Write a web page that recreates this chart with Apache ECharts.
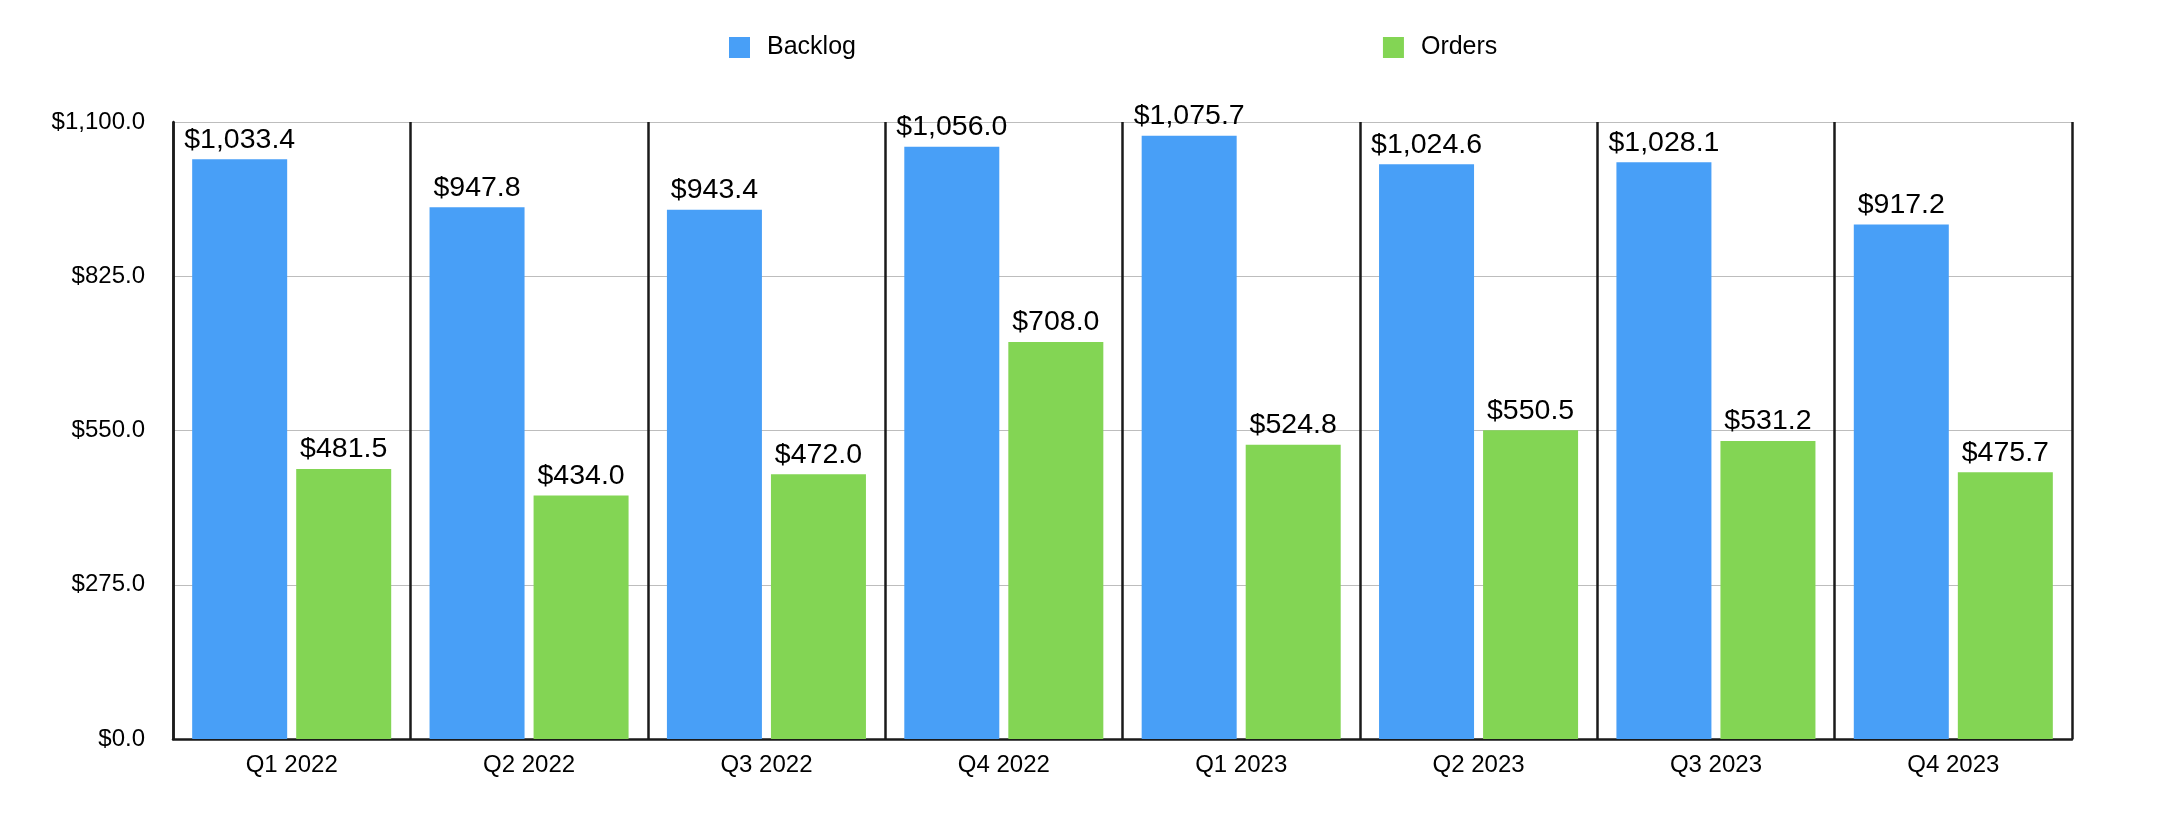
<!DOCTYPE html>
<html>
<head>
<meta charset="utf-8">
<script src="https://cdn.jsdelivr.net/npm/echarts@6/dist/echarts.min.js"></script>
<style>
html,body{margin:0;padding:0;background:#fff;}
#chart{width:2164px;height:830px;}
</style>
</head>
<body>
<div id="chart"></div>
<script>
const categories = ['Q1 2022','Q2 2022','Q3 2022','Q4 2022','Q1 2023','Q2 2023','Q3 2023','Q4 2023'];
const backlog = [1033.4, 947.8, 943.4, 1056.0, 1075.7, 1024.6, 1028.1, 917.2];
const orders = [481.5, 434.0, 472.0, 708.0, 524.8, 550.5, 531.2, 475.7];
const yMin = 0, yMax = 1100, yInterval = 275;

const FONT = "'Liberation Sans', Helvetica, Arial, sans-serif";
const nf = new Intl.NumberFormat('en-US', {minimumFractionDigits: 1, maximumFractionDigits: 1});
const money = v => '$' + nf.format(v);

const chart = echarts.init(document.getElementById('chart'), null, {renderer: 'canvas'});
const labelStyle = {
  show: true, position: 'top', distance: 5,
  fontFamily: FONT, fontSize: 28.5, color: '#000',
  formatter: p => money(p.value)
};
chart.setOption({
  animation: false,
  backgroundColor: '#fff',
  textStyle: {fontFamily: FONT},
  legend: {
    top: 30, left: 724,
    itemWidth: 21, itemHeight: 21, itemGap: 527,
    icon: 'rect',
    textStyle: {fontFamily: FONT, fontSize: 25, color: '#000', padding: [0,0,0,12]},
    data: ['Backlog', 'Orders']
  },
  grid: {left: 173, right: 92, top: 122, bottom: 91, containLabel: false},
  xAxis: {
    type: 'category', data: categories, boundaryGap: true,
    axisLine: {show: true, lineStyle: {color: '#1a1a1a', width: 2.5}},
    axisTick: {show: false},
    axisLabel: {fontFamily: FONT, fontSize: 24, color: '#000', margin: 14},
    splitLine: {show: true, lineStyle: {color: '#1a1a1a', width: 2.5}}
  },
  yAxis: {
    type: 'value', min: yMin, max: yMax, interval: yInterval,
    axisLine: {show: true, lineStyle: {color: '#1a1a1a', width: 2.5}},
    axisTick: {show: false},
    axisLabel: {fontFamily: FONT, fontSize: 24, color: '#000', margin: 28, formatter: v => money(v)},
    splitLine: {show: true, lineStyle: {color: '#bdbdbd', width: 1}}
  },
  series: [
    {name: 'Backlog', type: 'bar', data: backlog, barWidth: 95, barGap: '9.5%',
     itemStyle: {color: '#489ff7'}, label: labelStyle},
    {name: 'Orders', type: 'bar', data: orders, barWidth: 95, barGap: '9.5%',
     itemStyle: {color: '#83d554'}, label: labelStyle}
  ]
});
</script>
</body>
</html>
